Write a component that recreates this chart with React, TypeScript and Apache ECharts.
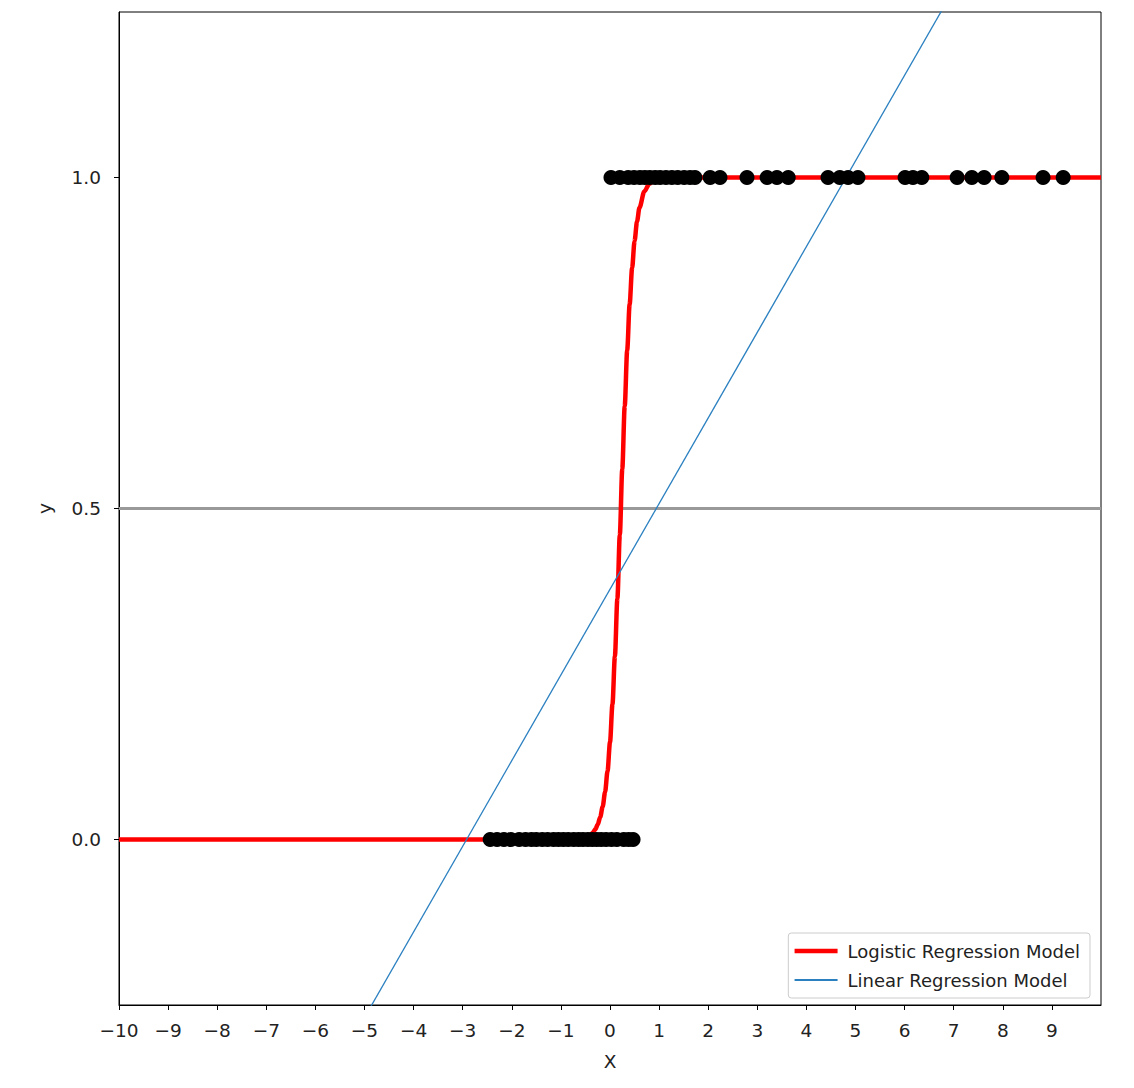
import React, { useEffect, useRef } from "react";
import * as echarts from "echarts";

// Tick values
const xTicks: number[] = [-10, -9, -8, -7, -6, -5, -4, -3, -2, -1, 0, 1, 2, 3, 4, 5, 6, 7, 8, 9];
const yTicks: number[] = [0, 0.5, 1.0];

// Observed samples (class 0 at y = 0, class 1 at y = 1)
const class0X: number[] = [
  -2.44, -2.3, -2.16, -2.02, -1.85, -1.72, -1.6, -1.5, -1.38, -1.27, -1.15, -1.05, -0.95, -0.85,
  -0.74, -0.64, -0.55, -0.45, -0.36, -0.27, -0.18, -0.08, 0.03, 0.14, 0.28, 0.38, 0.47,
];
const class1X: number[] = [
  0.02, 0.2, 0.37, 0.49, 0.61, 0.71, 0.81, 0.92, 1.02, 1.14, 1.26, 1.38, 1.51, 1.63, 1.73, 2.04,
  2.24, 2.79, 3.2, 3.4, 3.63, 4.44, 4.68, 4.85, 5.05, 6.01, 6.17, 6.35, 7.07, 7.37, 7.62, 7.98,
  8.82, 9.23,
];

// Logistic model curve
const logisticX: number[] = [
  -10, -1, -0.6, -0.5, -0.4, -0.35, -0.3, -0.25, -0.2, -0.15, -0.1, -0.05, 0, 0.05, 0.1, 0.15, 0.2,
  0.25, 0.3, 0.35, 0.4, 0.45, 0.5, 0.55, 0.6, 0.7, 0.8, 0.9, 1.0, 1.2, 1.5, 10,
];
const logisticY: number[] = [
  0, 0.0001, 0.0014, 0.0031, 0.007, 0.0103, 0.0154, 0.0227, 0.0336, 0.0493, 0.0718, 0.1034, 0.1468,
  0.2042, 0.2769, 0.3635, 0.4601, 0.5597, 0.6548, 0.7389, 0.8085, 0.8629, 0.9038, 0.9334, 0.9543,
  0.979, 0.9904, 0.9957, 0.9981, 0.9996, 1, 1,
];

// Linear model line endpoints
const linearX: number[] = [-10, 10];
const linearY: number[] = [-0.916, 1.672];

// Threshold line
const thresholdX: number[] = [-10, 10];
const thresholdY: number[] = [0.5, 0.5];

const FONT = "DejaVu Sans";
const minus = (s: string) => s.replace("-", "\u2212");

export default function App() {
  const ref = useRef<HTMLDivElement>(null);

  useEffect(() => {
    if (!ref.current) return;
    const chart = echarts.init(ref.current, undefined, { renderer: "svg" });
    chart.setOption({
      animation: false,
      backgroundColor: "#ffffff",
      textStyle: { fontFamily: FONT },
      grid: {
        left: 119,
        top: 12,
        width: 982,
        height: 993,
        show: true,
        borderColor: "#000000",
        borderWidth: 1,
        backgroundColor: "transparent",
      },
      xAxis: {
        type: "value",
        min: -10,
        max: 10,
        name: "X",
        nameLocation: "middle",
        nameGap: 47,
        nameTextStyle: { fontSize: 18.5, color: "#222", fontFamily: FONT },
        axisLine: { show: true, onZero: false, lineStyle: { color: "#000", width: 1 } },
        axisTick: { show: true, length: 5, lineStyle: { color: "#000" }, customValues: xTicks },
        axisLabel: {
          customValues: xTicks,
          margin: 16,
          fontSize: 18.5,
          color: "#222",
          fontFamily: FONT,
          formatter: (v: number) => minus(String(v)),
        },
        splitLine: { show: false },
      },
      yAxis: {
        type: "value",
        min: -0.25,
        max: 1.25,
        name: "y",
        nameLocation: "middle",
        nameGap: 65,
        nameTextStyle: { fontSize: 18.5, color: "#222", fontFamily: FONT },
        axisLine: { show: true, onZero: false, lineStyle: { color: "#000", width: 1 } },
        axisTick: { show: true, length: 5, lineStyle: { color: "#000" }, customValues: yTicks },
        axisLabel: {
          customValues: yTicks,
          margin: 18,
          fontSize: 18.5,
          color: "#222",
          fontFamily: FONT,
          formatter: (v: number) => v.toFixed(1),
        },
        splitLine: { show: false },
      },
      legend: {
        orient: "vertical",
        right: 44,
        bottom: 90,
        data: [
          { name: "Logistic Regression Model", lineStyle: { width: 4.5, color: "#ff0000" } },
          { name: "Linear Regression Model", lineStyle: { width: 2, color: "#2b80c0" } },
        ],
        backgroundColor: "#ffffff",
        borderColor: "#cccccc",
        borderWidth: 1,
        borderRadius: 3,
        padding: [9, 10, 9, 4],
        itemWidth: 43,
        itemHeight: 18,
        itemGap: 11,
        itemStyle: { opacity: 0 },
        textStyle: { fontSize: 18, color: "#222", fontFamily: FONT, padding: [0, 0, 0, 5] },
      },
      series: [
        {
          name: "threshold",
          type: "line",
          data: thresholdX.map((x, i) => [x, thresholdY[i]]),
          symbol: "none",
          lineStyle: { color: "#999999", width: 3 },
          z: 1,
          silent: true,
        },
        {
          name: "Logistic Regression Model",
          type: "line",
          data: logisticX.map((x, i) => [x, logisticY[i]]),
          symbol: "none",
          lineStyle: { color: "#ff0000", width: 4.5 },
          itemStyle: { color: "#ff0000" },
          smooth: 0.3,
          smoothMonotone: "x",
          z: 2,
        },
        {
          name: "Linear Regression Model",
          type: "line",
          data: linearX.map((x, i) => [x, linearY[i]]),
          symbol: "none",
          lineStyle: { color: "#2b80c0", width: 1.3 },
          itemStyle: { color: "#2b80c0" },
          z: 3,
        },
        {
          name: "class0",
          type: "scatter",
          data: class0X.map((x) => [x, 0]),
          symbol: "circle",
          symbolSize: 15,
          itemStyle: { color: "#000000", opacity: 1 },
          z: 4,
        },
        {
          name: "class1",
          type: "scatter",
          data: class1X.map((x) => [x, 1]),
          symbol: "circle",
          symbolSize: 15,
          itemStyle: { color: "#000000", opacity: 1 },
          z: 4,
        },
      ],
    });
    return () => chart.dispose();
  }, []);

  return (
    <div
      ref={ref}
      style={{ position: "absolute", left: 0, top: 0, width: 1134, height: 1088 }}
    />
  );
}
